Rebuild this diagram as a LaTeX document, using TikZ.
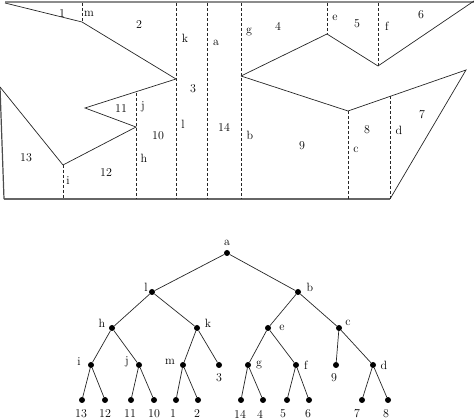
\documentclass[tikz,border=0pt]{standalone}
\begin{document}
\begin{tikzpicture}[x=1pt,y=-1pt,
  edge/.style={line width=0.7pt,black!85},
  dashln/.style={line width=0.6pt,dash pattern=on 3pt off 2pt,black!85},
  lab/.style={font=\fontsize{12}{14}\selectfont,inner sep=0pt},
  dot/.style={circle,fill=black,inner sep=0pt,minimum size=6pt},
  tedge/.style={line width=0.7pt,black!85}]
\useasboundingbox (0,0) rectangle (474,419);
% ---------- plan ----------
\coordinate (P0) at (5,3);
\coordinate (Pm) at (82,22);
\coordinate (Pk) at (176,79);
\coordinate (Pq) at (85,108);
\coordinate (Pj) at (136,127);
\coordinate (Pi) at (63,165);
\coordinate (Pl) at (0,87);
\coordinate (Pbl) at (4,199);
\coordinate (Pg) at (241,76);
\coordinate (Pe) at (327,34);
\coordinate (Pf) at (378,66);
\coordinate (Ptr) at (474,1);
\coordinate (Pc) at (348,111);
\coordinate (Pr) at (466,70);
\coordinate (Pbr) at (390,199);
\draw[line width=2pt,black!45] (5,2) -- (474,2);
\draw[line width=1.4pt,black!60] (Pbl) -- (Pbr);
\draw[line width=1.2pt,black!70] (Pl) -- (Pbl);
\draw[edge] (P0) -- (Pm) -- (Pk) -- (Pq) -- (Pj) -- (Pi) -- (Pl);
\draw[edge] (Pg) -- (Pe) -- (Pf) -- (Ptr);
\draw[edge] (Pg) -- (Pc) -- (Pr) -- (Pbr);
% dashed
\draw[dashln] (82,3) -- (Pm);
\draw[dashln] (176,3) -- (176,199);
\draw[dashln] (207,3) -- (207,199);
\draw[dashln] (241,3) -- (241,199);
\draw[dashln] (136,93) -- (136,199);
\draw[dashln] (63,165) -- (63,199);
\draw[dashln] (327,3) -- (Pe);
\draw[dashln] (378,3) -- (Pf);
\draw[dashln] (Pc) -- (348,199);
\draw[dashln] (390,96) -- (390,199);
% plan labels
\node[lab] at (62,14) {1};
\node[lab] at (89,14) {m};
\node[lab] at (139,25) {2};
\node[lab] at (185,38) {k};
\node[lab] at (216,43) {a};
\node[lab] at (193,89) {3};
\node[lab] at (121,109) {11};
\node[lab] at (143,107) {j};
\node[lab] at (183,124) {l};
\node[lab] at (224,127) {14};
\node[lab] at (158,136) {10};
\node[lab] at (26,158) {13};
\node[lab] at (144,158) {h};
\node[lab] at (106,173) {12};
\node[lab] at (68,181) {i};
\node[lab] at (249,32) {g};
\node[lab] at (278,26) {4};
\node[lab] at (335,18) {e};
\node[lab] at (357,24) {5};
\node[lab] at (387,26) {f};
\node[lab] at (421,15) {6};
\node[lab] at (422,115) {7};
\node[lab] at (367,130) {8};
\node[lab] at (399,130) {d};
\node[lab] at (250,135) {b};
\node[lab] at (302,146) {9};
\node[lab] at (356,150) {c};
% ---------- tree ----------
\node[dot] (a) at (227,253) {};
\node[dot] (l) at (152,292) {};
\node[dot] (b) at (298,292) {};
\node[dot] (h) at (112,328) {};
\node[dot] (k) at (197,328) {};
\node[dot] (e) at (268,328) {};
\node[dot] (c) at (339,328) {};
\node[dot] (i) at (91,365) {};
\node[dot] (j) at (139,365) {};
\node[dot] (m) at (183,365) {};
\node[dot] (t3) at (219,365) {};
\node[dot] (g) at (248,365) {};
\node[dot] (f) at (296,365) {};
\node[dot] (t9) at (336,365) {};
\node[dot] (d) at (373,365) {};
\node[dot] (t13) at (82,400) {};
\node[dot] (t12) at (105,400) {};
\node[dot] (t11) at (131,400) {};
\node[dot] (t10) at (154,400) {};
\node[dot] (t1) at (176,400) {};
\node[dot] (t2) at (198,400) {};
\node[dot] (t14) at (241,400) {};
\node[dot] (t4) at (263,400) {};
\node[dot] (t5) at (287,400) {};
\node[dot] (t6) at (309,400) {};
\node[dot] (t7) at (362,400) {};
\node[dot] (t8) at (388,400) {};
\foreach \u/\v in {a/l,a/b,l/h,l/k,b/e,b/c,h/i,h/j,k/m,k/t3,e/g,e/f,c/t9,c/d,
  i/t13,i/t12,j/t11,j/t10,m/t1,m/t2,g/t14,g/t4,f/t5,f/t6,d/t7,d/t8}
  \draw[tedge] (\u) -- (\v);
% tree labels
\node[lab] at (227,243) {a};
\node[lab] at (146,287) {l};
\node[lab] at (310,287) {b};
\node[lab] at (102,323) {h};
\node[lab] at (208,323) {k};
\node[lab] at (282,328) {e};
\node[lab] at (348,323) {c};
\node[lab] at (79,362) {i};
\node[lab] at (127,362) {j};
\node[lab] at (170,362) {m};
\node[lab] at (219,378) {3};
\node[lab] at (259,365) {g};
\node[lab] at (306,365) {f};
\node[lab] at (334,378) {9};
\node[lab] at (384,365) {d};
\node[lab] at (81,414) {13};
\node[lab] at (105,414) {12};
\node[lab] at (130,414) {11};
\node[lab] at (154,414) {10};
\node[lab] at (173,414) {1};
\node[lab] at (197,414) {2};
\node[lab] at (240,414) {14};
\node[lab] at (260,414) {4};
\node[lab] at (283,414) {5};
\node[lab] at (308,414) {6};
\node[lab] at (357,414) {7};
\node[lab] at (386,414) {8};
\end{tikzpicture}
\end{document}
